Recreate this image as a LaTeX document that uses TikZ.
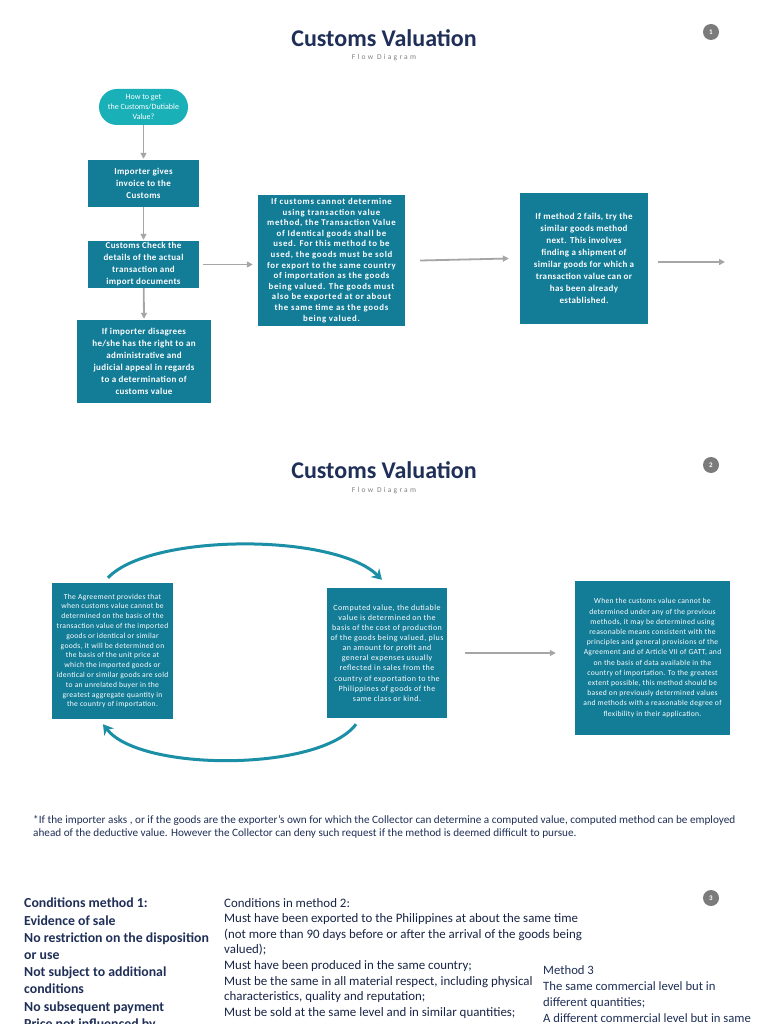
\documentclass[tikz,border=0pt]{standalone}
\usepackage{fontspec}
\setmainfont{Carlito}
\usepackage{xcolor}
\usepackage{tikz}
\usetikzlibrary{positioning,calc,arrows.meta}

\definecolor{boxteal}{HTML}{137C97}
\definecolor{pillteal}{HTML}{19B0B8}
\definecolor{titlenavy}{HTML}{1F2F57}
\definecolor{arrowgrey}{HTML}{A6A6A6}
\definecolor{badgegrey}{HTML}{7B7B7B}
\definecolor{arcteal}{HTML}{1A8FA6}

\tikzset{
  flowbox/.style={fill=boxteal, text=white, align=center, inner sep=0pt},
  bigtext/.style={font=\bfseries\fontsize{9}{12}\selectfont\addfontfeatures{LetterSpace=4}},
  smalltext/.style={font=\fontsize{7.6}{9.8}\selectfont\addfontfeatures{LetterSpace=4}},
  widetext/.style={font=\fontsize{8}{10.15}\selectfont\addfontfeatures{LetterSpace=6}},
  greyarrow/.style={-{Triangle[length=6pt,width=6pt]}, arrowgrey, line width=1.8pt},
  arcarrow/.style={-{Stealth[length=10pt,width=12pt]}, arcteal, line width=3pt},
  badge/.style={circle, fill=badgegrey, text=white, minimum size=16pt, inner sep=0pt, font=\bfseries\fontsize{7}{7}\selectfont},
  pagetitle/.style={text=titlenavy, font=\bfseries\fontsize{24}{26}\selectfont},
  subtitle/.style={text=gray, font=\fontsize{7.5}{8}\selectfont\addfontfeatures{LetterSpace=30}},
}

\begin{document}
\begin{tikzpicture}[x=1pt, y=-1pt]
    \useasboundingbox (0,0) rectangle (768,1024);
    \clip (0,0) rectangle (768,1024);
    \fill[white] (0,0) rectangle (768,1024);

    % Page 1
    \node[pagetitle] (title1) at (384,38) {Customs Valuation};
    \node[subtitle] (sub1) at (384,58) {Flow Diagram};
    \node[badge] (badge1) at (711,32) {1};

    \node[fill=pillteal, text=white, align=center, rounded corners=18pt, minimum width=89pt, minimum height=36pt, inner sep=0pt, font=\fontsize{8}{9.8}\selectfont] (start) at (143.5,107) {How to get\\the Customs/Dutiable\\Value?};
    \node[flowbox, bigtext, minimum width=111pt, minimum height=47pt] (invoice) at (143.5,183.5) {Importer gives\\invoice to the\\Customs};
    \node[flowbox, bigtext, minimum width=111pt, minimum height=47pt] (check) at (143.5,264.5) {Customs Check the\\details of the actual\\transaction and\\import documents};
    \node[flowbox, bigtext, minimum width=134pt, minimum height=83pt] (appeal) at (144,361.5) {If importer disagrees\\he/she has the right to an\\administrative and\\judicial appeal in regards\\to a determination of\\customs value};
    \node[flowbox, font=\bfseries\fontsize{8.8}{10.6}\selectfont\addfontfeatures{LetterSpace=8}, minimum width=147pt, minimum height=131pt] (identical) at (331.5,260.5) {If customs cannot determine\\using transaction value\\method, the Transaction Value\\of Identical goods shall be\\used. For this method to be\\used, the goods must be sold\\for export to the same country\\of importation as the goods\\being valued. The goods must\\also be exported at or about\\the same time as the goods\\being valued.};
    \node[flowbox, bigtext, minimum width=128pt, minimum height=131pt] (similar) at (584,258.5) {If method 2 fails, try the\\similar goods method\\next. This involves\\finding a shipment of\\similar goods for which a\\transaction value can or\\has been already\\established.};
    \coordinate (next) at (725,262);

    \draw[greyarrow] (start) -- ([yshift=1]invoice.north);
    \draw[greyarrow] (invoice) -- ([yshift=1]check.north);
    \draw[greyarrow] (check) -- ([yshift=1]appeal.north);
    \draw[greyarrow] ([xshift=4]check.east) -- ([xshift=-5]check.east -| identical.west);
    \draw[greyarrow] ([xshift=15]identical.east) -- ([xshift=-11]similar.west);
    \draw[greyarrow] ([xshift=10,yshift=-3.5]similar.east) -- (next);

    % Page 2
    \node[pagetitle] (title2) at (384,470) {Customs Valuation};
    \node[subtitle] (sub2) at (384,491) {Flow Diagram};
    \node[badge] (badge2) at (711,465) {2};

    \node[flowbox, smalltext, minimum width=121pt, minimum height=136pt] (deductive) at (112.5,651) {The Agreement provides that\\when customs value cannot be\\determined on the basis of the\\transaction value of the imported\\goods or identical or similar\\goods, it will be determined on\\the basis of the unit price at\\which the imported goods or\\identical or similar goods are sold\\to an unrelated buyer in the\\greatest aggregate quantity in\\the country of importation.};
    \node[flowbox, widetext, minimum width=120pt, minimum height=130pt] (computed) at (387,653) {Computed value, the dutiable\\value is determined on the\\basis of the cost of production\\of the goods being valued, plus\\an amount for profit and\\general expenses usually\\reflected in sales from the\\country of exportation to the\\Philippines of goods of the\\same class or kind.};
    \node[flowbox, font=\fontsize{7.6}{10.2}\selectfont\addfontfeatures{LetterSpace=4}, minimum width=155pt, minimum height=154pt] (fallback) at (652.5,658) {When the customs value cannot be\\determined under any of the previous\\methods, it may be determined using\\reasonable means consistent with the\\principles and general provisions of the\\Agreement and of Article VII of GATT, and\\on the basis of data available in the\\country of importation. To the greatest\\extent possible, this method should be\\based on previously determined values\\and methods with a reasonable degree of\\flexibility in their application.};

    \draw[greyarrow] ([xshift=18]computed.east) -- ([xshift=-19]fallback.west |- computed.east);
    \draw[arcarrow] ([xshift=-4.5,yshift=5]deductive.north) .. controls (150,533) and (335,533) .. ([xshift=-5,yshift=8]computed.north);
    \draw[arcarrow] ([xshift=-31,yshift=-6]computed.south) .. controls (320,772) and (140,772) .. ([xshift=-9.5,yshift=-5]deductive.south);

    \node[anchor=north west, inner sep=0pt, text=titlenavy, align=left, font=\fontsize{11.2}{13}\selectfont] (note) at (33,815) {*If the importer asks , or if the goods are the exporter’s own for which the Collector can determine a computed value, computed method can be employed\\ahead of the deductive value. However the Collector can deny such request if the method is deemed difficult to pursue.};

    % Page 3
    \node[badge] (badge3) at (711,898) {3};
    \node[anchor=north west, inner sep=0pt, text=titlenavy, align=left, font=\bfseries\fontsize{13.8}{17.2}\selectfont] (cond1) at (24,898) {Conditions method 1:\\Evidence of sale\\No restriction on the disposition\\or use\\Not subject to additional\\conditions\\No subsequent payment\\Price not influenced by};
    \node[anchor=north west, inner sep=0pt, text=titlenavy!80!black, align=left, font=\fontsize{12.9}{15.6}\selectfont] (cond2) at (224,898) {Conditions in method 2:\\Must have been exported to the Philippines at about the same time\\(not more than 90 days before or after the arrival of the goods being\\valued);\\Must have been produced in the same country;\\Must be the same in all material respect, including physical\\characteristics, quality and reputation;\\Must be sold at the same level and in similar quantities;};
    \node[anchor=north west, inner sep=0pt, text=titlenavy, align=left, font=\fontsize{12.7}{16}\selectfont] (cond3) at (543,965) {Method 3\\The same commercial level but in\\different quantities;\\A different commercial level but in same};
\end{tikzpicture}
\end{document}
